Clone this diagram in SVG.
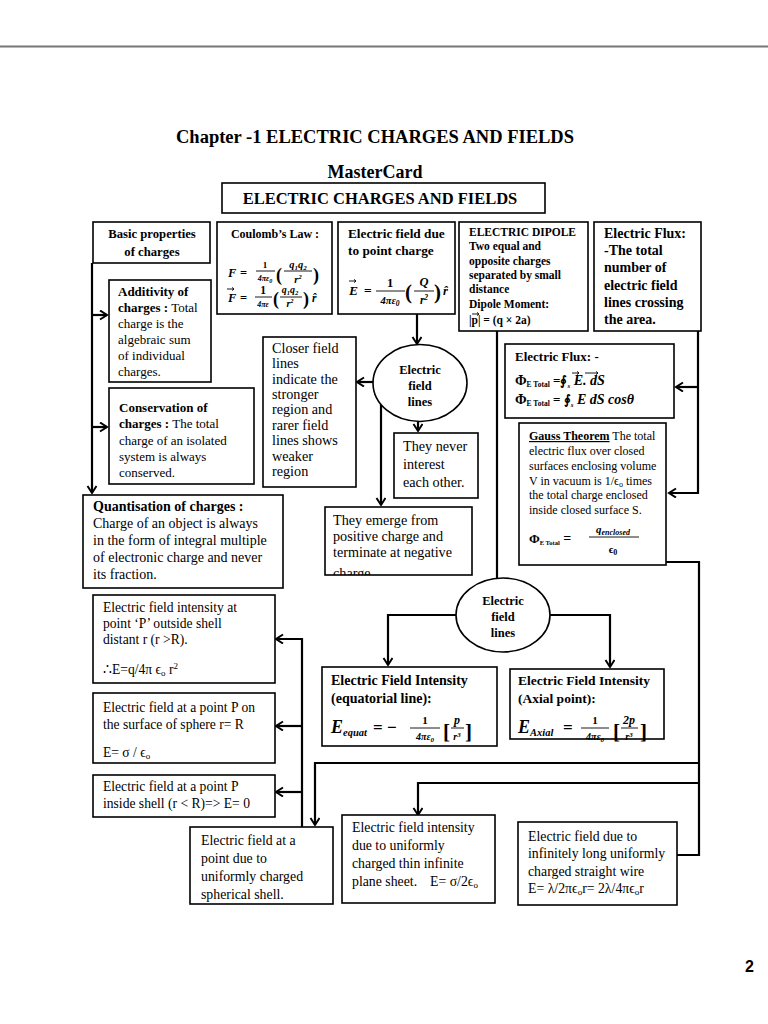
<svg xmlns="http://www.w3.org/2000/svg" xmlns:xlink="http://www.w3.org/1999/xlink" width="768" height="1024" viewBox="0 0 768 1024">
<style>
text{font-family:"Liberation Serif","Times New Roman",serif;fill:#000}
.b{font-weight:bold}
.i{font-style:italic}
.box{fill:#fff;stroke:#000;stroke-width:1.6}
.conn{fill:none;stroke:#000;stroke-width:2.2}
.bar{stroke:#000;stroke-width:0.9}
</style>
<defs>
<marker id="ah" markerUnits="userSpaceOnUse" markerWidth="12" markerHeight="12" refX="8" refY="5" orient="auto">
<path d="M1,0.5 L8,5 L1,9.5" fill="none" stroke="#000" stroke-width="2"/>
</marker>
<path id="va" d="M0,0 H7 M5,-1.6 L7,0 L5,1.6" fill="none" stroke="#000" stroke-width="0.9"/>
<clipPath id="cEm"><rect x="325" y="507" width="147" height="68"/></clipPath>
</defs>
<rect width="768" height="1024" fill="#fff"/>
<line x1="0" y1="46.5" x2="768" y2="46.5" stroke="#777" stroke-width="2"/>

<g id="header">
<text x="375" y="143" text-anchor="middle" class="b" font-size="18.5">Chapter -1 ELECTRIC CHARGES AND FIELDS</text>
<text x="375" y="178" text-anchor="middle" class="b" font-size="18">MasterCard</text>
</g>

<g id="connectors">
<path class="conn" d="M92,263 V493" marker-end="url(#ah)"/>
<path class="conn" d="M92,315 H107" marker-end="url(#ah)"/>
<path class="conn" d="M92,427 H107" marker-end="url(#ah)"/>
<path class="conn" d="M417,314 V344" marker-end="url(#ah)"/>
<path class="conn" d="M374,382 H357" marker-end="url(#ah)"/>
<path class="conn" d="M418,421 V431" marker-end="url(#ah)"/>
<path class="conn" d="M381,404 V505" marker-end="url(#ah)"/>
<path class="conn" d="M497,331 V579"/>
<path class="conn" d="M457,615 H388 V665" marker-end="url(#ah)"/>
<path class="conn" d="M550,615 H610 V667" marker-end="url(#ah)"/>
<path class="conn" d="M698,318 V493 H669" marker-end="url(#ah)"/>
<path class="conn" d="M698,387 H676" marker-end="url(#ah)"/>
<path class="conn" d="M640,562 H699 V855 H677"/>
<path class="conn" d="M699,763 H315 V825" marker-end="url(#ah)"/>
<path class="conn" d="M699,783 H418 V815" marker-end="url(#ah)"/>
<path class="conn" d="M302,827 V639 H276" marker-end="url(#ah)"/>
<path class="conn" d="M302,726 H276" marker-end="url(#ah)"/>
<path class="conn" d="M302,792 H276" marker-end="url(#ah)"/>
</g>

<g id="n-title">
<rect class="box" x="222" y="183" width="323" height="30"/>
<text x="380" y="204" text-anchor="middle" class="b" font-size="16.5">ELECTRIC CHARGES AND FIELDS</text>
</g>

<g id="n-basic">
<rect class="box" x="93" y="222" width="117" height="41"/>
<text x="152" y="238" text-anchor="middle" class="b" font-size="12.7">Basic properties</text>
<text x="152" y="256" text-anchor="middle" class="b" font-size="12.7">of charges</text>
</g>

<g id="n-coulomb">
<rect class="box" x="217" y="222" width="115" height="92"/>
<text x="275" y="238" text-anchor="middle" class="b" font-size="12">Coulomb’s Law :</text>
<text x="228" y="277" class="b i" font-size="12.5">F</text>
<text x="240" y="277" class="b" font-size="12.5">=</text>
<text x="265" y="268" text-anchor="middle" class="b" font-size="9">1</text>
<line class="bar" x1="256" y1="271" x2="275" y2="271"/>
<text x="265" y="281" text-anchor="middle" class="b i" font-size="8">4πε<tspan font-size="6" dy="1.5">0</tspan></text>
<text x="276" y="281" class="b" font-size="18">(</text>
<text x="298" y="268" text-anchor="middle" class="b i" font-size="10.5">q<tspan font-size="7" dy="2">1</tspan><tspan dy="-2">q</tspan><tspan font-size="7" dy="2">2</tspan></text>
<line class="bar" x1="284" y1="271" x2="312" y2="271"/>
<text x="298" y="283" text-anchor="middle" class="b i" font-size="10.5">r<tspan font-size="7" dy="-4">2</tspan></text>
<text x="313" y="281" class="b" font-size="18">)</text>
<use xlink:href="#va" x="227" y="289"/>
<text x="228" y="302" class="b i" font-size="12.5">F</text>
<text x="240" y="302" class="b" font-size="12.5">=</text>
<text x="263" y="294" text-anchor="middle" class="b" font-size="11.5">1</text>
<line class="bar" x1="255" y1="297" x2="272" y2="297"/>
<text x="263" y="307" text-anchor="middle" class="b i" font-size="8">4πε</text>
<text x="273" y="305" class="b" font-size="18">(</text>
<text x="290" y="293" text-anchor="middle" class="b i" font-size="10">q<tspan font-size="6.5" dy="2">1</tspan><tspan dy="-2">q</tspan><tspan font-size="6.5" dy="2">2</tspan></text>
<line class="bar" x1="280" y1="297" x2="302" y2="297"/>
<text x="290" y="307" text-anchor="middle" class="b i" font-size="10">r<tspan font-size="6.5" dy="-4">2</tspan></text>
<text x="303" y="305" class="b" font-size="18">)</text>
<text x="312" y="302" class="b i" font-size="11.5">r̂</text>
</g>

<g id="n-efield">
<rect class="box" x="338" y="222" width="117" height="92"/>
<text x="348" y="238" class="b" font-size="13.3">Electric field due</text>
<text x="348" y="255" class="b" font-size="13.3">to point charge</text>
<use xlink:href="#va" x="349" y="281"/>
<text x="349" y="295" class="b i" font-size="13.5">E</text>
<text x="364" y="295" class="b" font-size="13.5">=</text>
<text x="390" y="287" text-anchor="middle" class="b" font-size="12.5">1</text>
<line class="bar" x1="376" y1="291" x2="405" y2="291"/>
<text x="390" y="304" text-anchor="middle" class="b i" font-size="10.5">4πε<tspan font-size="7.5" dy="2">0</tspan></text>
<text x="405" y="299" class="b" font-size="21">(</text>
<text x="424" y="286" text-anchor="middle" class="b i" font-size="12.5">Q</text>
<line class="bar" x1="414" y1="291" x2="434" y2="291"/>
<text x="424" y="304" text-anchor="middle" class="b i" font-size="11.5">r<tspan font-size="7.5" dy="-4">2</tspan></text>
<text x="434" y="299" class="b" font-size="21">)</text>
<text x="443" y="295" class="b i" font-size="12.5">r̂</text>
</g>

<g id="n-dipole">
<rect class="box" x="459" y="222" width="129" height="109"/>
<g class="b" font-size="11.5">
<text x="469" y="236">ELECTRIC DIPOLE</text>
<text x="469" y="250">Two equal and</text>
<text x="469" y="265">opposite charges</text>
<text x="469" y="279">separated by small</text>
<text x="469" y="293">distance</text>
<text x="469" y="308">Dipole Moment:</text>
<text x="469" y="324">|p| = (q × 2a)</text>
</g>
<use xlink:href="#va" x="472" y="314"/>
</g>

<g id="n-flux">
<rect class="box" x="594" y="222" width="107" height="109"/>
<g class="b" font-size="14">
<text x="604" y="238">Electric Flux:</text>
<text x="604" y="255">-The total</text>
<text x="604" y="272">number of</text>
<text x="604" y="290">electric field</text>
<text x="604" y="307">lines crossing</text>
<text x="604" y="324">the area.</text>
</g>
</g>

<g id="n-additivity">
<rect class="box" x="109" y="280" width="102" height="102"/>
<g font-size="13">
<text x="118" y="296" class="b">Additivity of</text>
<text x="118" y="312"><tspan class="b">charges :</tspan> Total</text>
<text x="118" y="328">charge is the</text>
<text x="118" y="344">algebraic sum</text>
<text x="118" y="360">of individual</text>
<text x="118" y="376">charges.</text>
</g>
</g>

<g id="n-conservation">
<rect class="box" x="109" y="388" width="145" height="96"/>
<g font-size="13">
<text x="119" y="412" class="b">Conservation of</text>
<text x="119" y="428"><tspan class="b">charges :</tspan> The total</text>
<text x="119" y="445">charge of an isolated</text>
<text x="119" y="461">system is always</text>
<text x="119" y="477">conserved.</text>
</g>
</g>

<g id="n-closer">
<rect class="box" x="263" y="337" width="93" height="150"/>
<g font-size="14.2">
<text x="272" y="353">Closer field</text>
<text x="272" y="368">lines</text>
<text x="272" y="384">indicate the</text>
<text x="272" y="399">stronger</text>
<text x="272" y="414">region and</text>
<text x="272" y="430">rarer field</text>
<text x="272" y="445">lines shows</text>
<text x="272" y="461">weaker</text>
<text x="272" y="476">region</text>
</g>
</g>

<g id="n-lines1">
<ellipse class="box" cx="420" cy="383" rx="47" ry="38.5"/>
<g class="b" font-size="12.5" text-anchor="middle">
<text x="420" y="374">Electric</text>
<text x="420" y="390">field</text>
<text x="420" y="406">lines</text>
</g>
</g>

<g id="n-never">
<rect class="box" x="394" y="433" width="84" height="65"/>
<g font-size="14.2">
<text x="403" y="451">They never</text>
<text x="403" y="469">interest</text>
<text x="403" y="487">each other.</text>
</g>
</g>

<g id="n-emerge">
<rect class="box" x="325" y="507" width="147" height="68"/>
<g font-size="14.2" clip-path="url(#cEm)">
<text x="333" y="525">They emerge from</text>
<text x="333" y="541">positive charge and</text>
<text x="333" y="557">terminate at negative</text>
<text x="333" y="578">charge.</text>
</g>
</g>

<g id="n-quant">
<rect class="box" x="83" y="495" width="200" height="93"/>
<g font-size="14">
<text x="93" y="511" class="b">Quantisation of charges :</text>
<text x="93" y="528">Charge of an object is always</text>
<text x="93" y="545">in the form of integral multiple</text>
<text x="93" y="562">of electronic charge and never</text>
<text x="93" y="579">its fraction.</text>
</g>
</g>

<g id="n-flux2">
<rect class="box" x="505" y="344" width="169" height="74"/>
<text x="515" y="361" class="b" font-size="13">Electric Flux: -</text>
<text x="515" y="385" class="b" font-size="14">Φ<tspan font-size="7.5" dy="2">E Total</tspan><tspan dy="-2" font-size="13"> =∮</tspan><tspan class="i" font-size="7" dy="3">s</tspan><tspan class="i" dy="-3"> E. dS</tspan></text>
<use xlink:href="#va" x="572" y="373"/>
<path d="M585,373 H598 M596,371.4 L598,373 L596,374.6" fill="none" stroke="#000" stroke-width="0.9"/>
<text x="515" y="404" class="b" font-size="14">Φ<tspan font-size="7.5" dy="2">E Total</tspan><tspan dy="-2" font-size="13"> =  ∮</tspan><tspan class="i" font-size="7" dy="3">s</tspan><tspan class="i" dy="-3"> E dS cosθ</tspan></text>
</g>

<g id="n-gauss">
<rect class="box" x="519" y="423" width="147" height="142"/>
<g font-size="12">
<text x="529" y="440"><tspan class="b" text-decoration="underline">Gauss Theorem</tspan> The total</text>
<text x="529" y="455">electric flux over closed</text>
<text x="529" y="470">surfaces enclosing volume</text>
<text x="529" y="485">V in vacuum is 1/ϵ<tspan font-size="8" dy="2">o</tspan><tspan dy="-2"> times</tspan></text>
<text x="529" y="499">the total charge enclosed</text>
<text x="529" y="514">inside closed surface S.</text>
</g>
<text x="529" y="543" class="b" font-size="13">Φ<tspan font-size="6.5" dy="2">E Total</tspan><tspan dy="-2" font-size="14"> =</tspan></text>
<text x="613" y="533" text-anchor="middle" class="b i" font-size="11">q<tspan font-size="8" dy="2">enclosed</tspan></text>
<line class="bar" x1="589" y1="537" x2="639" y2="537"/>
<text x="613" y="553" text-anchor="middle" class="b" font-size="11">ϵ<tspan font-size="8" dy="2">0</tspan></text>
</g>

<g id="n-lines2">
<ellipse class="box" cx="503" cy="615" rx="47" ry="37"/>
<g class="b" font-size="12.5" text-anchor="middle">
<text x="503" y="605">Electric</text>
<text x="503" y="621">field</text>
<text x="503" y="637">lines</text>
</g>
</g>

<g id="n-equat">
<rect class="box" x="322" y="667" width="175" height="79"/>
<text x="331" y="685" class="b" font-size="14">Electric Field Intensity</text>
<text x="331" y="703" class="b" font-size="14">(equatorial line):</text>
<text x="331" y="733" class="b i" font-size="18">E<tspan font-size="10.5" dy="3">equat</tspan></text>
<text x="373" y="733" class="b" font-size="17">= −</text>
<text x="425" y="724" text-anchor="middle" class="b" font-size="11">1</text>
<line class="bar" x1="410" y1="728" x2="440" y2="728"/>
<text x="425" y="740" text-anchor="middle" class="b i" font-size="10">4πε<tspan font-size="7" dy="2">0</tspan></text>
<text x="443" y="739" class="b" font-size="21">[</text>
<text x="457" y="724" text-anchor="middle" class="b i" font-size="12">p</text>
<line class="bar" x1="451" y1="728" x2="464" y2="728"/>
<text x="457" y="740" text-anchor="middle" class="b i" font-size="10">r<tspan font-size="7" dy="-3.5">3</tspan></text>
<text x="465" y="739" class="b" font-size="21">]</text>
</g>

<g id="n-axial">
<rect class="box" x="510" y="669" width="154" height="70"/>
<text x="518" y="685" class="b" font-size="13.5">Electric Field Intensity</text>
<text x="518" y="703" class="b" font-size="13.5">(Axial point):</text>
<text x="518" y="733" class="b i" font-size="18">E<tspan font-size="10.5" dy="3">Axial</tspan></text>
<text x="563" y="733" class="b" font-size="17">=</text>
<text x="595" y="724" text-anchor="middle" class="b" font-size="11">1</text>
<line class="bar" x1="581" y1="728" x2="609" y2="728"/>
<text x="595" y="740" text-anchor="middle" class="b i" font-size="10">4πε<tspan font-size="7" dy="2">0</tspan></text>
<text x="613" y="739" class="b" font-size="21">[</text>
<text x="629" y="724" text-anchor="middle" class="b i" font-size="12">2p</text>
<line class="bar" x1="621" y1="728" x2="638" y2="728"/>
<text x="629" y="740" text-anchor="middle" class="b i" font-size="10">r<tspan font-size="7" dy="-3.5">3</tspan></text>
<text x="640" y="739" class="b" font-size="21">]</text>
</g>

<g id="n-outside">
<rect class="box" x="93" y="595" width="182" height="88"/>
<g font-size="13.6">
<text x="103" y="612">Electric field intensity at</text>
<text x="103" y="628">point ‘P’ outside shell</text>
<text x="103" y="644">distant r (r &gt;R).</text>
<text x="103" y="674">∴E=q/4π ϵ<tspan font-size="9" dy="2">o</tspan><tspan dy="-2"> r</tspan><tspan font-size="9" dy="-5">2</tspan></text>
</g>
</g>

<g id="n-surface">
<rect class="box" x="93" y="693" width="182" height="70"/>
<g font-size="13.6">
<text x="103" y="712">Electric field at a point P on</text>
<text x="103" y="729">the surface of sphere r= R</text>
<text x="103" y="757">E= σ / ϵ<tspan font-size="9" dy="2">o</tspan></text>
</g>
</g>

<g id="n-inside">
<rect class="box" x="93" y="775" width="182" height="42"/>
<g font-size="13.6">
<text x="103" y="791">Electric field at a point P</text>
<text x="103" y="808">inside shell (r &lt; R)=&gt;  E= 0</text>
</g>
</g>

<g id="n-shell">
<rect class="box" x="190" y="827" width="143" height="77"/>
<g font-size="13.8">
<text x="201" y="845">Electric field at a</text>
<text x="201" y="863">point due to</text>
<text x="201" y="881">uniformly charged</text>
<text x="201" y="899">spherical shell.</text>
</g>
</g>

<g id="n-plane">
<rect class="box" x="342" y="815" width="153" height="88"/>
<g font-size="13.8">
<text x="352" y="832">Electric field intensity</text>
<text x="352" y="850">due to uniformly</text>
<text x="352" y="868">charged thin infinite</text>
<text x="352" y="886">plane sheet.<tspan x="430">E= σ/2ϵ</tspan><tspan font-size="9" dy="2">o</tspan></text>
</g>
</g>

<g id="n-wire">
<rect class="box" x="518" y="822" width="159" height="83"/>
<g font-size="13.8">
<text x="528" y="841">Electric field due to</text>
<text x="528" y="858">infinitely long uniformly</text>
<text x="528" y="876">charged straight wire</text>
<text x="528" y="893">E= λ/2πϵ<tspan font-size="9" dy="2">o</tspan><tspan dy="-2">r= 2λ/4πϵ</tspan><tspan font-size="9" dy="2">o</tspan><tspan dy="-2">r</tspan></text>
</g>
</g>

<text x="745" y="972" font-weight="bold" font-size="16" style="font-family:'Liberation Sans',Arial,sans-serif">2</text>
</svg>
